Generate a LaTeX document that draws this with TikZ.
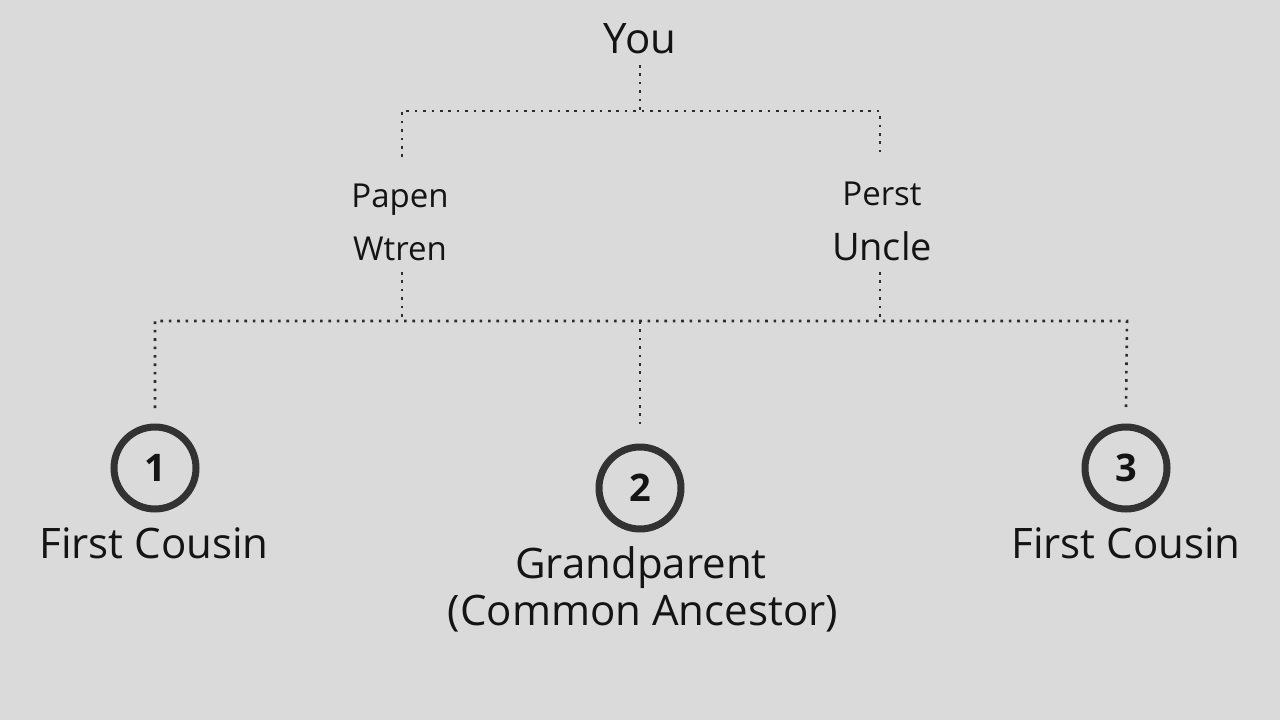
\documentclass[tikz,border=0pt]{standalone}
\usepackage{fontspec}
\setmainfont{Open Sans}
\usetikzlibrary{calc}
\definecolor{bg}{RGB}{218,218,218}
\definecolor{txt}{RGB}{20,20,20}
\definecolor{linec}{RGB}{45,45,45}
\definecolor{ringc}{RGB}{50,50,50}
\tikzset{
  lbl/.style={text=txt, inner sep=0pt, anchor=base, font=\fontsize{42}{48}\selectfont},
  small/.style={lbl, font=\fontsize{33}{38}\selectfont},
  mid/.style={lbl, font=\fontsize{38}{44}\selectfont},
  dotline/.style={draw=linec, line width=2.6pt, dash pattern=on 2.6pt off 5.8pt},
  ring/.style={circle, draw=ringc, line width=7pt, minimum size=82pt, inner sep=0pt,
    text=txt, font=\bfseries\fontsize{38}{40}\selectfont}
}
\begin{document}
\begin{tikzpicture}[x=1pt,y=-1pt]
\fill[bg] (0,0) rectangle (1280,720);
\useasboundingbox (0,0) rectangle (1280,720);

% nodes
\node[lbl] (you) at (640,53) {You};
\node[small] (papen) at (400,207) {Papen};
\node[small] (wtren) at (400,260) {Wtren};
\node[small] (perst) at (882,205) {Perst};
\node[mid] (uncle) at (882,260) {Uncle};

\node[ring] (c1) at (155,468) {1};
\node[ring] (c2) at (640,488) {2};
\node[ring] (c3) at (1126,468) {3};

\node[lbl] (fc1) at (154,558) {First Cousin};
\node[lbl] (fc3) at (1126,558) {First Cousin};
\node[lbl] (gp) at (641,578) {Grandparent};
\node[lbl] (ca) at (643,625) {(Common Ancestor)};

% junction coordinates
\coordinate (j0) at (640,111);
\coordinate (jL) at (402,111);
\coordinate (jR) at (880,111);
\coordinate (pL) at (402,157);
\coordinate (pR) at (880,157);
\coordinate (k0) at (640,321);
\coordinate (kL) at (402,321);
\coordinate (kR) at (880,321);
\coordinate (m1) at (155,321);
\coordinate (m3) at (1127,321);

% connectors
\draw[dotline] (640,65) -- (j0);
\draw[dotline] (pL) -- (jL) -- (jR) -- (pR);
\draw[dotline] ($(wtren.base)+(2,12)$) -- (kL);
\draw[dotline] ($(uncle.base)+(-2,12)$) -- (kR);
\draw[dotline] (c1.north |- 0,408) -- (m1) -- (m3) -- (c3.north |- 0,408);
\draw[dotline] (k0) -- ($(c2.north)+(0,-17)$);
\end{tikzpicture}
\end{document}
